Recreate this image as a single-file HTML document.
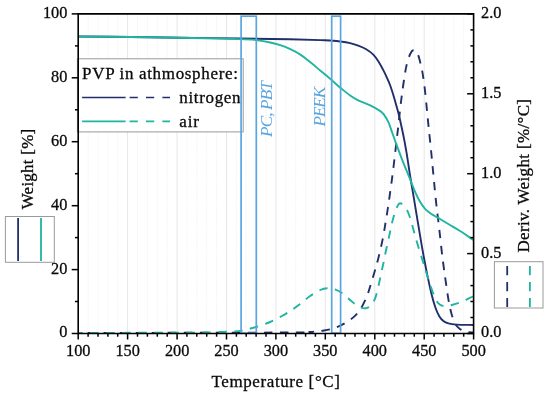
<!DOCTYPE html>
<html lang="en"><head><meta charset="utf-8"><title>PVP TGA</title>
<style>html,body{margin:0;padding:0;background:#fff}svg{display:block}text{font-family:"Liberation Serif",serif;fill:#0a0a0a;stroke:#0a0a0a;stroke-width:0.3px}</style>
</head><body>
<svg width="550" height="398" viewBox="0 0 550 398">
<rect width="550" height="398" fill="#fff"/>
<g><line x1="88.1" y1="13.9" x2="88.1" y2="333.5" stroke="#ececec" stroke-width="0.8" stroke-dasharray="1.2 1.2"/><line x1="98.0" y1="13.9" x2="98.0" y2="333.5" stroke="#ececec" stroke-width="0.8" stroke-dasharray="1.2 1.2"/><line x1="107.9" y1="13.9" x2="107.9" y2="333.5" stroke="#ececec" stroke-width="0.8" stroke-dasharray="1.2 1.2"/><line x1="117.7" y1="13.9" x2="117.7" y2="333.5" stroke="#ececec" stroke-width="0.8" stroke-dasharray="1.2 1.2"/><line x1="127.6" y1="13.9" x2="127.6" y2="333.5" stroke="#e6e6e6" stroke-width="1"/><line x1="137.5" y1="13.9" x2="137.5" y2="333.5" stroke="#ececec" stroke-width="0.8" stroke-dasharray="1.2 1.2"/><line x1="147.4" y1="13.9" x2="147.4" y2="333.5" stroke="#ececec" stroke-width="0.8" stroke-dasharray="1.2 1.2"/><line x1="157.3" y1="13.9" x2="157.3" y2="333.5" stroke="#ececec" stroke-width="0.8" stroke-dasharray="1.2 1.2"/><line x1="167.2" y1="13.9" x2="167.2" y2="333.5" stroke="#ececec" stroke-width="0.8" stroke-dasharray="1.2 1.2"/><line x1="177.1" y1="13.9" x2="177.1" y2="333.5" stroke="#e6e6e6" stroke-width="1"/><line x1="186.9" y1="13.9" x2="186.9" y2="333.5" stroke="#ececec" stroke-width="0.8" stroke-dasharray="1.2 1.2"/><line x1="196.8" y1="13.9" x2="196.8" y2="333.5" stroke="#ececec" stroke-width="0.8" stroke-dasharray="1.2 1.2"/><line x1="206.7" y1="13.9" x2="206.7" y2="333.5" stroke="#ececec" stroke-width="0.8" stroke-dasharray="1.2 1.2"/><line x1="216.6" y1="13.9" x2="216.6" y2="333.5" stroke="#ececec" stroke-width="0.8" stroke-dasharray="1.2 1.2"/><line x1="226.5" y1="13.9" x2="226.5" y2="333.5" stroke="#e6e6e6" stroke-width="1"/><line x1="236.4" y1="13.9" x2="236.4" y2="333.5" stroke="#ececec" stroke-width="0.8" stroke-dasharray="1.2 1.2"/><line x1="246.2" y1="13.9" x2="246.2" y2="333.5" stroke="#ececec" stroke-width="0.8" stroke-dasharray="1.2 1.2"/><line x1="256.1" y1="13.9" x2="256.1" y2="333.5" stroke="#ececec" stroke-width="0.8" stroke-dasharray="1.2 1.2"/><line x1="266.0" y1="13.9" x2="266.0" y2="333.5" stroke="#ececec" stroke-width="0.8" stroke-dasharray="1.2 1.2"/><line x1="275.9" y1="13.9" x2="275.9" y2="333.5" stroke="#e6e6e6" stroke-width="1"/><line x1="285.8" y1="13.9" x2="285.8" y2="333.5" stroke="#ececec" stroke-width="0.8" stroke-dasharray="1.2 1.2"/><line x1="295.7" y1="13.9" x2="295.7" y2="333.5" stroke="#ececec" stroke-width="0.8" stroke-dasharray="1.2 1.2"/><line x1="305.6" y1="13.9" x2="305.6" y2="333.5" stroke="#ececec" stroke-width="0.8" stroke-dasharray="1.2 1.2"/><line x1="315.4" y1="13.9" x2="315.4" y2="333.5" stroke="#ececec" stroke-width="0.8" stroke-dasharray="1.2 1.2"/><line x1="325.3" y1="13.9" x2="325.3" y2="333.5" stroke="#e6e6e6" stroke-width="1"/><line x1="335.2" y1="13.9" x2="335.2" y2="333.5" stroke="#ececec" stroke-width="0.8" stroke-dasharray="1.2 1.2"/><line x1="345.1" y1="13.9" x2="345.1" y2="333.5" stroke="#ececec" stroke-width="0.8" stroke-dasharray="1.2 1.2"/><line x1="355.0" y1="13.9" x2="355.0" y2="333.5" stroke="#ececec" stroke-width="0.8" stroke-dasharray="1.2 1.2"/><line x1="364.9" y1="13.9" x2="364.9" y2="333.5" stroke="#ececec" stroke-width="0.8" stroke-dasharray="1.2 1.2"/><line x1="374.8" y1="13.9" x2="374.8" y2="333.5" stroke="#e6e6e6" stroke-width="1"/><line x1="384.6" y1="13.9" x2="384.6" y2="333.5" stroke="#ececec" stroke-width="0.8" stroke-dasharray="1.2 1.2"/><line x1="394.5" y1="13.9" x2="394.5" y2="333.5" stroke="#ececec" stroke-width="0.8" stroke-dasharray="1.2 1.2"/><line x1="404.4" y1="13.9" x2="404.4" y2="333.5" stroke="#ececec" stroke-width="0.8" stroke-dasharray="1.2 1.2"/><line x1="414.3" y1="13.9" x2="414.3" y2="333.5" stroke="#ececec" stroke-width="0.8" stroke-dasharray="1.2 1.2"/><line x1="424.2" y1="13.9" x2="424.2" y2="333.5" stroke="#e6e6e6" stroke-width="1"/><line x1="434.1" y1="13.9" x2="434.1" y2="333.5" stroke="#ececec" stroke-width="0.8" stroke-dasharray="1.2 1.2"/><line x1="443.9" y1="13.9" x2="443.9" y2="333.5" stroke="#ececec" stroke-width="0.8" stroke-dasharray="1.2 1.2"/><line x1="453.8" y1="13.9" x2="453.8" y2="333.5" stroke="#ececec" stroke-width="0.8" stroke-dasharray="1.2 1.2"/><line x1="463.7" y1="13.9" x2="463.7" y2="333.5" stroke="#ececec" stroke-width="0.8" stroke-dasharray="1.2 1.2"/></g>
<g fill="none" stroke-width="1.9" stroke-linejoin="round">
<path d="M78.2,333.0C113.5,332.9 251.3,332.7 290.0,332.5C328.6,332.3 304.4,332.2 310.1,331.9C315.8,331.6 319.8,331.2 324.2,330.5C328.6,329.8 332.6,328.8 336.3,327.4C340.0,326.0 343.3,324.2 346.3,322.4C349.3,320.6 352.0,318.6 354.4,316.4C356.8,314.2 358.4,312.5 360.4,309.3C362.4,306.1 364.8,301.3 366.5,297.3C368.2,293.3 369.2,289.4 370.5,285.2C371.8,281.0 373.2,276.6 374.5,272.1C375.8,267.6 377.0,263.4 378.4,258.0C379.8,252.6 381.4,245.4 382.6,239.6C383.8,233.8 384.6,228.3 385.5,223.0C386.4,217.7 386.9,214.5 387.9,207.9C388.9,201.3 390.2,192.1 391.4,183.3C392.6,174.5 393.8,164.6 394.9,155.2C396.0,145.8 397.1,136.2 398.2,127.0C399.2,117.8 400.2,108.0 401.2,100.3C402.1,92.5 403.0,86.4 403.9,80.5C404.8,74.6 405.6,69.5 406.6,65.1C407.7,60.7 409.0,56.5 410.2,54.0C411.4,51.5 412.6,50.0 413.9,50.0C415.1,50.0 416.4,50.9 417.7,53.8C419.0,56.7 420.4,62.8 421.5,67.6C422.6,72.4 423.2,77.2 424.0,82.7C424.8,88.2 425.4,94.4 426.0,100.3C426.6,106.2 427.1,112.0 427.7,117.9C428.3,123.8 428.8,128.8 429.5,135.5C430.2,142.2 431.1,150.6 431.8,158.0C432.5,165.4 433.1,172.3 433.9,180.0C434.6,187.7 435.4,195.7 436.3,204.1C437.2,212.5 438.4,221.5 439.4,230.3C440.4,239.1 441.4,248.9 442.4,257.0C443.4,265.1 444.4,272.1 445.4,279.1C446.4,286.2 447.4,293.6 448.4,299.3C449.4,305.0 450.2,309.2 451.4,313.4C452.6,317.6 454.0,321.7 455.5,324.4C457.0,327.1 458.7,328.1 460.5,329.4C462.3,330.6 464.3,331.4 466.5,331.9C468.7,332.4 472.4,332.4 473.6,332.5" stroke="#212f6b" stroke-dasharray="8.5 7.5" stroke-dashoffset="6.4"/>
<path d="M78.2,36.5C86.8,36.6 113.0,36.8 130.0,37.0C147.0,37.2 161.7,37.5 180.0,37.7C198.3,38.0 221.7,38.2 240.0,38.5C258.3,38.8 276.6,39.0 290.0,39.3C303.4,39.6 313.8,39.9 320.5,40.1C327.2,40.3 326.4,40.2 330.0,40.5C333.6,40.8 338.8,41.3 342.1,41.7C345.5,42.1 347.4,42.5 350.1,43.1C352.8,43.8 355.5,44.6 358.2,45.6C360.9,46.6 363.7,47.7 366.2,49.2C368.7,50.7 371.3,52.6 373.3,54.6C375.3,56.6 376.8,58.9 378.3,61.2C379.8,63.5 381.0,65.8 382.3,68.3C383.6,70.8 385.0,73.3 386.3,76.3C387.6,79.2 389.0,82.0 390.4,86.0C391.8,90.0 393.5,95.5 394.8,100.0C396.1,104.5 397.1,107.9 398.4,113.0C399.7,118.1 401.0,124.3 402.4,130.8C403.8,137.4 405.2,144.6 406.5,152.3C407.8,160.0 409.0,169.0 410.3,177.0C411.6,185.0 412.9,192.2 414.2,200.1C415.5,208.0 417.0,217.2 418.2,224.3C419.4,231.4 420.3,237.0 421.2,242.4C422.1,247.8 422.8,251.6 423.8,257.0C424.8,262.4 426.1,269.1 427.3,275.1C428.6,281.1 430.0,287.8 431.3,293.2C432.6,298.6 434.0,303.4 435.3,307.3C436.6,311.2 438.0,314.1 439.4,316.4C440.8,318.7 441.9,319.8 443.4,321.0C444.9,322.2 446.2,322.8 448.4,323.4C450.6,324.0 452.3,324.3 456.5,324.6C460.7,324.9 470.8,324.9 473.6,325.0" stroke="#212f6b"/>
<path d="M78.2,333.0C96.8,332.9 167.4,332.7 190.0,332.6C212.6,332.5 207.3,332.4 214.0,332.2C220.7,332.0 225.3,331.9 230.0,331.6C234.7,331.3 237.7,331.4 242.0,330.6C246.3,329.8 251.3,328.4 256.0,327.0C260.7,325.6 265.7,323.8 270.0,322.0C274.3,320.2 278.3,318.0 282.0,316.0C285.7,314.0 289.0,311.8 292.0,309.8C295.0,307.8 297.1,306.3 300.1,304.0C303.1,301.7 306.8,298.3 310.1,296.0C313.5,293.7 317.4,291.3 320.2,290.0C323.0,288.7 324.8,288.3 327.2,288.2C329.6,288.1 331.8,288.4 334.3,289.2C336.8,290.0 339.6,291.3 342.3,293.2C345.0,295.1 347.7,298.1 350.4,300.3C353.1,302.5 355.9,305.2 358.4,306.5C360.9,307.8 363.5,308.5 365.5,308.3C367.5,308.1 368.8,307.3 370.5,305.5C372.2,303.7 374.0,301.4 375.5,297.3C377.0,293.2 378.3,286.4 379.5,281.2C380.7,276.0 381.7,271.1 382.8,266.0C383.9,260.9 384.9,255.7 386.0,250.5C387.1,245.3 388.4,239.7 389.4,235.0C390.4,230.3 391.0,226.8 392.1,222.5C393.2,218.2 394.8,212.2 396.1,209.0C397.5,205.8 398.5,203.2 400.2,203.2C401.9,203.2 404.7,206.5 406.4,209.0C408.1,211.5 408.9,214.3 410.2,218.2C411.5,222.1 412.9,227.7 414.2,232.4C415.5,237.1 416.8,241.9 418.2,246.4C419.6,250.9 420.9,255.2 422.3,259.5C423.7,263.9 425.0,268.2 426.3,272.5C427.6,276.8 429.0,281.2 430.3,285.2C431.6,289.1 433.0,293.2 434.3,296.2C435.6,299.2 436.7,301.6 438.4,303.3C440.1,305.0 442.4,306.0 444.4,306.3C446.4,306.6 447.7,306.0 450.4,305.3C453.1,304.6 456.6,303.8 460.5,302.3C464.4,300.8 471.4,297.2 473.6,296.2" stroke="#1fb5a0" stroke-dasharray="8.5 7.5" stroke-dashoffset="4"/>
<path d="M78.2,36.5C86.8,36.6 113.0,36.8 130.0,37.0C147.0,37.2 161.7,37.4 180.0,37.7C198.3,38.1 227.3,38.7 240.0,39.1C252.7,39.5 251.1,39.5 256.1,40.1C261.1,40.7 266.2,41.6 270.2,42.5C274.2,43.4 276.8,44.1 280.2,45.2C283.6,46.3 286.9,47.6 290.3,49.2C293.7,50.8 297.0,52.4 300.4,54.6C303.8,56.8 307.0,59.6 310.4,62.3C313.8,65.0 317.1,67.9 320.5,70.7C323.9,73.5 327.2,76.2 330.5,79.0C333.8,81.8 336.7,84.8 340.0,87.5C343.3,90.2 347.1,93.4 350.1,95.5C353.1,97.6 354.9,98.6 358.2,100.3C361.5,102.0 366.5,103.6 370.2,105.4C373.9,107.2 377.9,109.5 380.3,111.1C382.7,112.7 383.0,113.3 384.3,115.1C385.6,116.9 387.0,119.1 388.4,122.1C389.8,125.1 391.1,129.5 392.4,133.2C393.7,136.9 394.7,139.8 396.4,144.3C398.1,148.8 400.1,154.5 402.4,160.4C404.7,166.3 408.2,174.5 410.3,179.8C412.4,185.1 413.6,188.4 415.2,192.1C416.8,195.8 418.5,199.2 420.2,202.1C421.9,204.9 423.6,207.3 425.3,209.2C427.0,211.0 427.8,211.5 430.3,213.2C432.8,214.9 437.0,217.2 440.4,219.2C443.8,221.2 447.0,223.3 450.4,225.3C453.8,227.3 456.6,228.9 460.5,231.3C464.4,233.8 471.4,238.6 473.6,240.0" stroke="#1fb5a0"/>
</g>
<rect x="77.4" y="58.8" width="165.8" height="73.1" fill="#fff" stroke="#9a9a9a" stroke-width="1"/>
<g fill="none" stroke-width="1.7">
<path d="M82.1,97.5H125.6" stroke="#212f6b"/><path d="M129.6,97.5H170" stroke="#212f6b" stroke-dasharray="8.2 8.2"/>
<path d="M82.1,121.4H125.6" stroke="#1fb5a0"/><path d="M129.6,121.4H170" stroke="#1fb5a0" stroke-dasharray="8.2 8.2"/>
</g>
<text x="82.1" y="78.8" font-size="17" textLength="155.8" lengthAdjust="spacing">PVP in athmosphere:</text>
<text x="179.3" y="102.9" font-size="17" textLength="61.2" lengthAdjust="spacing">nitrogen</text>
<text x="179.3" y="127.1" font-size="17" textLength="19.7" lengthAdjust="spacing">air</text>
<g fill="none" stroke="#5aa5e0" stroke-width="1.7">
<rect x="241.1" y="16.2" width="15.2" height="317"/>
<rect x="331.7" y="16.2" width="8.9" height="317"/>
</g>
<text transform="translate(272.2,137) rotate(-90)" font-size="17.3" font-style="italic" style="fill:#5aa5e0;stroke:#5aa5e0;stroke-width:0" textLength="56" lengthAdjust="spacing">PC, PBT</text>
<text transform="translate(325.1,126.6) rotate(-90)" font-size="17.3" font-style="italic" style="fill:#5aa5e0;stroke:#5aa5e0;stroke-width:0" textLength="40" lengthAdjust="spacing">PEEK</text>
<g stroke="#000" stroke-width="1.5"><path d="M78.2,13.9V333.5H473.6V13.9Z" fill="none" stroke="#000" stroke-width="1.6"/><line x1="78.2" y1="333.5" x2="78.2" y2="339.5"/><line x1="88.1" y1="333.5" x2="88.1" y2="336.7"/><line x1="98.0" y1="333.5" x2="98.0" y2="336.7"/><line x1="107.9" y1="333.5" x2="107.9" y2="336.7"/><line x1="117.7" y1="333.5" x2="117.7" y2="336.7"/><line x1="127.6" y1="333.5" x2="127.6" y2="339.5"/><line x1="137.5" y1="333.5" x2="137.5" y2="336.7"/><line x1="147.4" y1="333.5" x2="147.4" y2="336.7"/><line x1="157.3" y1="333.5" x2="157.3" y2="336.7"/><line x1="167.2" y1="333.5" x2="167.2" y2="336.7"/><line x1="177.1" y1="333.5" x2="177.1" y2="339.5"/><line x1="186.9" y1="333.5" x2="186.9" y2="336.7"/><line x1="196.8" y1="333.5" x2="196.8" y2="336.7"/><line x1="206.7" y1="333.5" x2="206.7" y2="336.7"/><line x1="216.6" y1="333.5" x2="216.6" y2="336.7"/><line x1="226.5" y1="333.5" x2="226.5" y2="339.5"/><line x1="236.4" y1="333.5" x2="236.4" y2="336.7"/><line x1="246.2" y1="333.5" x2="246.2" y2="336.7"/><line x1="256.1" y1="333.5" x2="256.1" y2="336.7"/><line x1="266.0" y1="333.5" x2="266.0" y2="336.7"/><line x1="275.9" y1="333.5" x2="275.9" y2="339.5"/><line x1="285.8" y1="333.5" x2="285.8" y2="336.7"/><line x1="295.7" y1="333.5" x2="295.7" y2="336.7"/><line x1="305.6" y1="333.5" x2="305.6" y2="336.7"/><line x1="315.4" y1="333.5" x2="315.4" y2="336.7"/><line x1="325.3" y1="333.5" x2="325.3" y2="339.5"/><line x1="335.2" y1="333.5" x2="335.2" y2="336.7"/><line x1="345.1" y1="333.5" x2="345.1" y2="336.7"/><line x1="355.0" y1="333.5" x2="355.0" y2="336.7"/><line x1="364.9" y1="333.5" x2="364.9" y2="336.7"/><line x1="374.8" y1="333.5" x2="374.8" y2="339.5"/><line x1="384.6" y1="333.5" x2="384.6" y2="336.7"/><line x1="394.5" y1="333.5" x2="394.5" y2="336.7"/><line x1="404.4" y1="333.5" x2="404.4" y2="336.7"/><line x1="414.3" y1="333.5" x2="414.3" y2="336.7"/><line x1="424.2" y1="333.5" x2="424.2" y2="339.5"/><line x1="434.1" y1="333.5" x2="434.1" y2="336.7"/><line x1="443.9" y1="333.5" x2="443.9" y2="336.7"/><line x1="453.8" y1="333.5" x2="453.8" y2="336.7"/><line x1="463.7" y1="333.5" x2="463.7" y2="336.7"/><line x1="473.6" y1="333.5" x2="473.6" y2="339.5"/><line x1="71.7" y1="333.5" x2="78.2" y2="333.5"/><line x1="75.0" y1="301.5" x2="78.2" y2="301.5"/><line x1="71.7" y1="269.6" x2="78.2" y2="269.6"/><line x1="75.0" y1="237.6" x2="78.2" y2="237.6"/><line x1="71.7" y1="205.7" x2="78.2" y2="205.7"/><line x1="75.0" y1="173.7" x2="78.2" y2="173.7"/><line x1="71.7" y1="141.7" x2="78.2" y2="141.7"/><line x1="75.0" y1="109.8" x2="78.2" y2="109.8"/><line x1="71.7" y1="77.8" x2="78.2" y2="77.8"/><line x1="75.0" y1="45.9" x2="78.2" y2="45.9"/><line x1="71.7" y1="13.9" x2="78.2" y2="13.9"/><line x1="467.1" y1="333.5" x2="473.6" y2="333.5"/><line x1="470.4" y1="317.5" x2="473.6" y2="317.5"/><line x1="470.4" y1="301.5" x2="473.6" y2="301.5"/><line x1="470.4" y1="285.6" x2="473.6" y2="285.6"/><line x1="470.4" y1="269.6" x2="473.6" y2="269.6"/><line x1="467.1" y1="253.6" x2="473.6" y2="253.6"/><line x1="470.4" y1="237.6" x2="473.6" y2="237.6"/><line x1="470.4" y1="221.6" x2="473.6" y2="221.6"/><line x1="470.4" y1="205.7" x2="473.6" y2="205.7"/><line x1="470.4" y1="189.7" x2="473.6" y2="189.7"/><line x1="467.1" y1="173.7" x2="473.6" y2="173.7"/><line x1="470.4" y1="157.7" x2="473.6" y2="157.7"/><line x1="470.4" y1="141.7" x2="473.6" y2="141.7"/><line x1="470.4" y1="125.8" x2="473.6" y2="125.8"/><line x1="470.4" y1="109.8" x2="473.6" y2="109.8"/><line x1="467.1" y1="93.8" x2="473.6" y2="93.8"/><line x1="470.4" y1="77.8" x2="473.6" y2="77.8"/><line x1="470.4" y1="61.8" x2="473.6" y2="61.8"/><line x1="470.4" y1="45.9" x2="473.6" y2="45.9"/><line x1="470.4" y1="29.9" x2="473.6" y2="29.9"/><line x1="467.1" y1="13.9" x2="473.6" y2="13.9"/></g>
<rect x="5.4" y="216.5" width="48.9" height="45.8" fill="#fff" stroke="#9a9a9a" stroke-width="1"/>
<path d="M18.1,218.1V260.9" stroke="#212f6b" stroke-width="1.8" fill="none"/>
<path d="M41,218.1V260.9" stroke="#1fb5a0" stroke-width="1.8" fill="none"/>
<rect x="494.4" y="261.7" width="48.6" height="46.3" fill="#fff" stroke="#9a9a9a" stroke-width="1"/>
<path d="M507.2,266V307" stroke="#212f6b" stroke-width="1.8" fill="none" stroke-dasharray="9.3 6.7"/>
<path d="M529.9,266V307" stroke="#1fb5a0" stroke-width="1.8" fill="none" stroke-dasharray="9.3 6.7"/>
<g font-size="16.3"><text x="78.2" y="355.8" text-anchor="middle">100</text><text x="127.6" y="355.8" text-anchor="middle">150</text><text x="177.1" y="355.8" text-anchor="middle">200</text><text x="226.5" y="355.8" text-anchor="middle">250</text><text x="275.9" y="355.8" text-anchor="middle">300</text><text x="325.3" y="355.8" text-anchor="middle">350</text><text x="374.8" y="355.8" text-anchor="middle">400</text><text x="424.2" y="355.8" text-anchor="middle">450</text><text x="473.6" y="355.8" text-anchor="middle">500</text><text x="67.4" y="337.4" text-anchor="end">0</text><text x="67.4" y="273.5" text-anchor="end">20</text><text x="67.4" y="209.6" text-anchor="end">40</text><text x="67.4" y="145.6" text-anchor="end">60</text><text x="67.4" y="81.7" text-anchor="end">80</text><text x="67.4" y="17.8" text-anchor="end">100</text><text x="481" y="337.4">0.0</text><text x="481" y="257.5">0.5</text><text x="481" y="177.6">1.0</text><text x="481" y="97.7">1.5</text><text x="481" y="17.8">2.0</text></g>
<text x="211.5" y="387.3" font-size="17" textLength="128.4" lengthAdjust="spacing">Temperature [°C]</text>
<text transform="translate(33.2,209.3) rotate(-90)" font-size="17" textLength="80.6" lengthAdjust="spacing">Weight [%]</text>
<text transform="translate(529.2,252.6) rotate(-90)" font-size="17" textLength="153.6" lengthAdjust="spacing">Deriv. Weight [%/°C]</text>
</svg></body></html>
